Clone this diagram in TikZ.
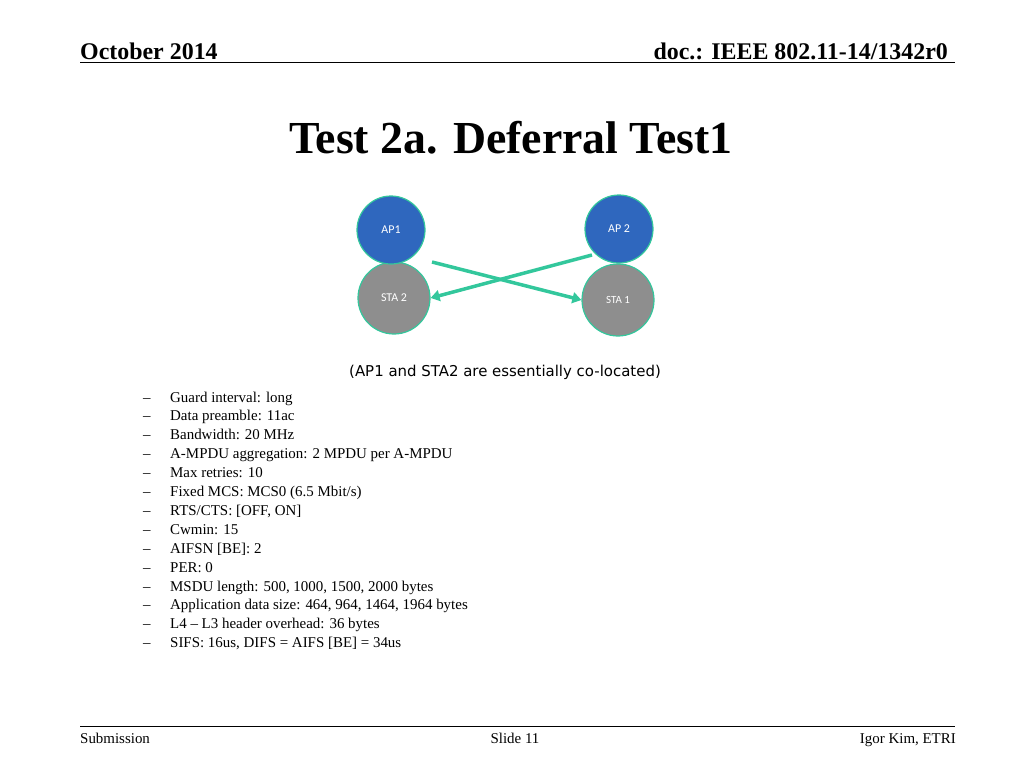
\documentclass[tikz,border=0pt]{standalone}
\usepackage{fontspec}
\setmainfont{Liberation Serif}
\newfontfamily\captionfont{DejaVu Sans}
\newfontfamily\labelfont{Carlito}
\usetikzlibrary{arrows.meta, positioning, calc}
\definecolor{apblue}{HTML}{2F67BE}
\definecolor{linkgreen}{HTML}{33C79C}
\definecolor{stagray}{HTML}{8E8E8E}

\begin{document}
\begin{tikzpicture}[
    x=1bp, y=-1bp,
    ap node/.style={
        circle,
        draw=linkgreen,
        line width=1.2pt,
        fill=apblue,
        minimum size=68bp,
        text=white,
        font=\labelfont\fontsize{12}{14}\selectfont
    },
    sta node/.style={
        ap node,
        fill=stagray,
        minimum size=72bp
    },
    link/.style={
        draw=linkgreen,
        line width=3.5pt,
        -{Triangle[length=9bp, width=11bp]}
    }
]
    \useasboundingbox (0,0) rectangle (1024,768);

    % --- header and footer ---
    \draw[line width=0.8pt] (80,62) -- (955,62);
    \draw[line width=0.8pt] (80,726) -- (955,726);
    \node[anchor=base west, inner sep=0pt, font=\fontsize{24}{26}\selectfont\bfseries] (date) at (80,60) {October 2014};
    \node[anchor=base east, inner sep=0pt, font=\fontsize{24}{26}\selectfont\bfseries] (doc) at (948,60) {doc.: IEEE 802.11-14/1342r0};
    \node[anchor=base west, inner sep=0pt, font=\fontsize{15}{17}\selectfont] (sub) at (80,743) {Submission};
    \node[anchor=base, font=\fontsize{15}{17}\selectfont] (slide) at (515,743) {Slide 11};
    \node[anchor=base east, inner sep=0pt, font=\fontsize{15}{17}\selectfont] (auth) at (956,743) {Igor Kim, ETRI};

    \node[font=\fontsize{46}{50}\selectfont\bfseries] (title) at (511,138) {Test 2a. Deferral Test1};

    % --- stations ---
    \node[sta node] (sta2) at (394,298) {STA 2};
    \node[ap node] (ap1) at (391,230) {AP1};
    \node[sta node, font=\labelfont\fontsize{11}{13}\selectfont] (sta1) at (618,300) {STA 1};
    \node[ap node] (ap2) at (619,229) {AP 2};

    \coordinate (a1) at (432,262);
    \coordinate (a2) at (592,255);
    \draw[link] (a1) -- (sta1.west);
    \draw[link] (a2) -- (sta2.east);

    \node[font=\captionfont\fontsize{15}{17}\selectfont] (note) at (505,372) {(AP1 and STA2 are essentially co-located)};

    % --- parameters ---
    \foreach \txt [count=\i from 0] in {
        Guard interval: long,
        Data preamble: 11ac,
        Bandwidth: 20 MHz,
        A-MPDU aggregation: 2 MPDU per A-MPDU,
        Max retries: 10,
        Fixed MCS: MCS0 (6.5 Mbit/s),
        {RTS/CTS: [OFF, ON]},
        Cwmin: 15,
        AIFSN [BE]: 2,
        PER: 0,
        {MSDU length: 500, 1000, 1500, 2000 bytes},
        {Application data size: 464, 964, 1464, 1964 bytes},
        L4 -- L3 header overhead: 36 bytes,
        {SIFS: 16us, DIFS = AIFS [BE] = 34us}
    }{
        \node[anchor=base west, inner sep=0pt, font=\fontsize{15}{17}\selectfont] (dash\i) at (143,{402+18.9*\i}) {--};
        \node[anchor=base west, inner sep=0pt, font=\fontsize{15}{17}\selectfont] (item\i) at (170,{402+18.9*\i}) {\txt};
    }
\end{tikzpicture}
\end{document}
